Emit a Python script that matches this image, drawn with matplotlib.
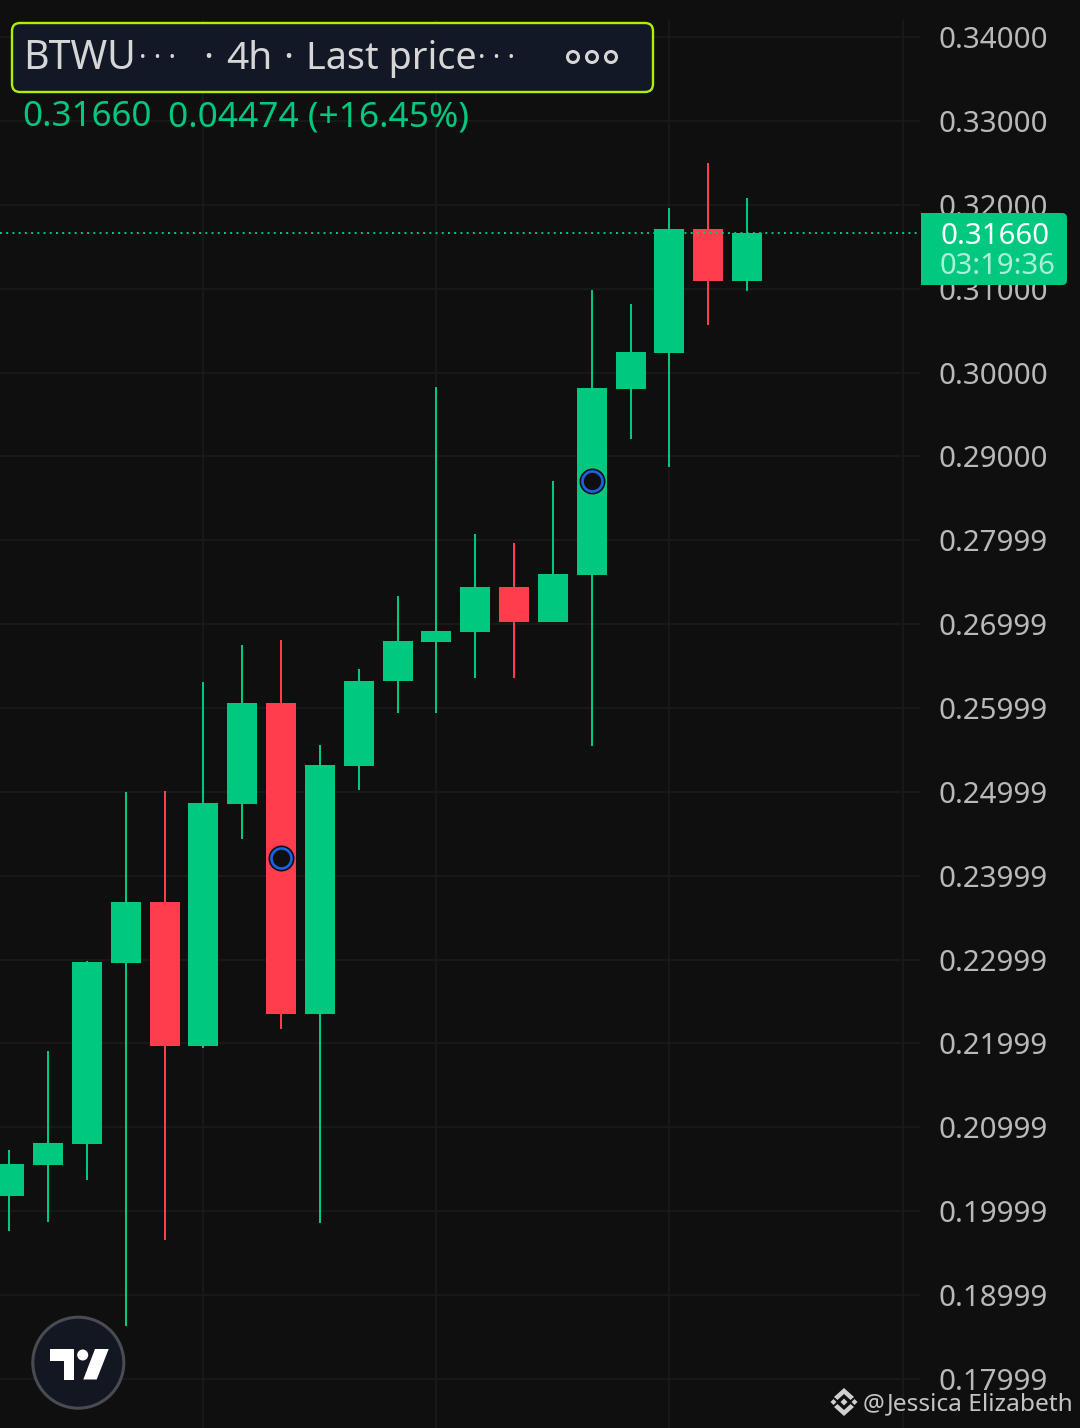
import matplotlib
matplotlib.use("Agg")
import matplotlib.pyplot as plt
from matplotlib.patches import Circle, FancyBboxPatch, Polygon, Rectangle

plt.rcParams['font.family'] = ['Noto Sans', 'DejaVu Sans']

# candles, oldest first
opens = [0.20181, 0.20551, 0.20801, 0.22959, 0.23687, 0.21970, 0.24855, 0.26059, 0.22351, 0.25308,
         0.26322, 0.26787, 0.26906, 0.27442, 0.27025, 0.27585, 0.29803, 0.30232, 0.31711, 0.31091]
closes = [0.20563, 0.20813, 0.22971, 0.23687, 0.21970, 0.24867, 0.26059, 0.22351, 0.25320, 0.26322,
          0.26799, 0.26918, 0.27442, 0.27025, 0.27597, 0.29815, 0.30244, 0.31711, 0.31091, 0.31663]
highs = [0.20730, 0.21910, 0.22983, 0.24998, 0.25010, 0.26310, 0.26751, 0.26810, 0.25559, 0.26465,
         0.27335, 0.29827, 0.28074, 0.27967, 0.28706, 0.30983, 0.30817, 0.31961, 0.32498, 0.32080]
lows = [0.19764, 0.19871, 0.20372, 0.18631, 0.19657, 0.21946, 0.24438, 0.22172, 0.19859, 0.25022,
        0.25940, 0.25940, 0.26357, 0.26357, 0.27025, 0.25547, 0.29207, 0.28873, 0.30566, 0.30972]
candle_idx = list(range(len(opens)))

# round markers sitting on two of the candles
marker_idx = [7, 15]
marker_price = [0.24211, 0.28706]

tick_values = [0.34, 0.33, 0.32, 0.31, 0.30, 0.29, 0.28, 0.27, 0.26, 0.25, 0.24, 0.23, 0.22, 0.21, 0.20, 0.19, 0.18]
tick_labels = ['0.34000', '0.33000', '0.32000', '0.31000', '0.30000', '0.29000', '0.27999', '0.26999', '0.25999',
               '0.24999', '0.23999', '0.22999', '0.21999', '0.20999', '0.19999', '0.18999', '0.17999']
grid_idx = [5, 11, 17, 23]
last_price = 0.31660

BG = '#0f0f0f'
GREEN = '#00c97f'
RED = '#ff3d4d'
GRID = '#191919'
LABEL = '#b9b9b9'
W, H = 1080, 1428
PLOT_R = 920
PLOT_T = 20
STEP = 38.84

fig = plt.figure(figsize=(W / 100, H / 100), dpi=100, facecolor=BG)

# price pane, the scale is outside on the right
ax = fig.add_axes([0, 0, PLOT_R / W, (H - PLOT_T) / H], facecolor=BG)
ax.set_xlim(-9.2 / STEP, (PLOT_R - 9.2) / STEP)
ax.set_ylim(0.17415, 0.34203)
for s in ax.spines.values():
    s.set_visible(False)
ax.yaxis.tick_right()
ax.set_yticks(tick_values)
ax.set_yticklabels(tick_labels, fontsize=21.2, color=LABEL)
ax.set_xticks(grid_idx)
ax.tick_params(axis='y', length=0, pad=13.3)
ax.tick_params(axis='x', length=0, labelbottom=False)
ax.grid(True, color=GRID, lw=1.4, zorder=0)
ax.set_axisbelow(True)

colors = [GREEN if c >= o else RED for o, c in zip(opens, closes)]
ax.vlines(candle_idx, lows, highs, colors=colors, lw=1.44, zorder=2)
ax.bar(candle_idx, [c - o for o, c in zip(opens, closes)], bottom=opens, width=0.772, color=colors, zorder=3)
ax.axhline(last_price, color=GREEN, lw=1.4, ls=(0, (1, 2.2)), zorder=4)
ax.scatter(marker_idx, marker_price, s=350, color='#0a0f1c', lw=0, zorder=5)
ax.scatter(marker_idx, marker_price, s=207, facecolor=BG, edgecolor='#1763e0', lw=1.9, zorder=6)

# overlay in pixel coordinates for badge, legend and logo
ov = fig.add_axes([0, 0, 1, 1], facecolor='none')
ov.set_xlim(0, W)
ov.set_ylim(H, 0)
ov.axis('off')

# last price badge
ov.add_patch(FancyBboxPatch((926, 218), 136, 62, boxstyle='round,pad=5,rounding_size=5', fc=GREEN, ec='none', zorder=3))
ov.add_patch(Rectangle((921, 213), 20, 72, fc=GREEN, ec='none', zorder=3))
ov.text(940, 236, '0.31660', color='white', fontsize=21.2, va='center', ha='left', zorder=4)
ov.text(940, 267, '03:19:36', color='#a8f0d6', fontsize=21, va='center', ha='left', zorder=4)

# legend
ov.add_patch(FancyBboxPatch((20, 31), 625, 53, boxstyle='round,pad=8,rounding_size=8', fc='#131826', ec='#aef000', lw=1.7, zorder=2))
ov.text(23, 59, 'BTWU', color='#d6d6d6', fontsize=28.4, va='center', ha='left', zorder=3)
ov.text(139, 59, '\u00b7 \u00b7 \u00b7', color='#d6d6d6', fontsize=20, va='center', ha='left', zorder=3)
ov.text(203, 59, '\u00b7', color='#d6d6d6', fontsize=27, va='center', ha='left', fontweight='bold', zorder=3)
ov.text(226, 59, '4h', color='#d6d6d6', fontsize=28, va='center', ha='left', zorder=3)
ov.text(283, 59, '\u00b7', color='#d6d6d6', fontsize=27, va='center', ha='left', fontweight='bold', zorder=3)
ov.text(306, 59, 'Last price', color='#d6d6d6', fontsize=27.2, va='center', ha='left', zorder=3)
ov.text(478, 59, '\u00b7 \u00b7 \u00b7', color='#d6d6d6', fontsize=20, va='center', ha='left', zorder=3)
for cx in [573, 592, 611]:
    ov.add_patch(Circle((cx, 57), 5.5, fc='none', ec='#d6d6d6', lw=2.2, zorder=3))
ov.text(22, 117, '0.31660', color=GREEN, fontsize=25.2, va='center', ha='left', zorder=3)
ov.text(168, 117, '0.04474 (+16.45%)', color=GREEN, fontsize=25.4, va='center', ha='left', zorder=3)

# tradingview logo
ov.add_patch(Circle((78.3, 1362.7), 45.5, fc='#131722', ec='#4a4a52', lw=2.2, zorder=3))
ov.add_patch(Polygon([(50, 1349), (74, 1349), (74, 1379.5), (63.5, 1379.5), (63.5, 1361), (50, 1361)], fc='white', ec='none', zorder=4))
ov.add_patch(Circle((82.7, 1355), 5.5, fc='white', ec='none', zorder=4))
ov.add_patch(Polygon([(95, 1349), (108.7, 1349), (96.7, 1379.5), (83.3, 1379.5)], fc='white', ec='none', zorder=4))

# watermark with binance mark
MARK = '#cfcfcf'
ov.add_patch(Polygon([(844, 1388), (854, 1397), (850.5, 1400), (844, 1394), (837.5, 1400), (834, 1397)], fc=MARK, ec='none', zorder=4))
ov.add_patch(Polygon([(844, 1416), (854, 1407), (850.5, 1404), (844, 1410), (837.5, 1404), (834, 1407)], fc=MARK, ec='none', zorder=4))
for mx, r in [(844, 3.5), (833.5, 3), (854.5, 3)]:
    ov.add_patch(Polygon([(mx - r, 1402), (mx, 1402 - r), (mx + r, 1402), (mx, 1402 + r)], fc=MARK, ec='none', zorder=4))
ov.text(863, 1404, '@', color='#c4c4c4', fontsize=17.5, va='center', ha='left', zorder=4)
ov.text(887, 1404, 'Jessica Elizabeth', color='#c4c4c4', fontsize=17.6, va='center', ha='left', zorder=4)

fig.savefig('out.png', dpi=100, facecolor=BG)
